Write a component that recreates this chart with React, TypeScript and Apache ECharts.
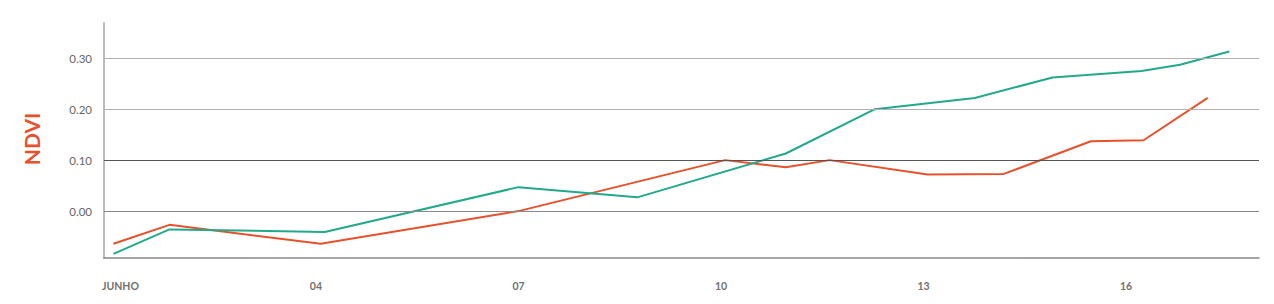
import React, { useEffect, useRef } from 'react';
import * as echarts from 'echarts';

const tickDays = [1, 4, 7, 10, 13, 16];
const tickLabels = ['JUNHO', '04', '07', '10', '13', '16'];
const yTicks = [0, 0.1, 0.2, 0.3];
const gridColors = ['#8a8a8a', '#555555', '#b0b0b0', '#b0b0b0'];

const redDays = [1, 1.83, 4.07, 7, 10.06, 10.96, 11.61, 13.06, 14.19, 15.48, 16.26, 17.21];
const redValues = [-0.064, -0.027, -0.064, 0, 0.1, 0.086, 0.1, 0.072, 0.073, 0.137, 0.139, 0.222];
const greenDays = [1, 1.83, 4.13, 7, 8.76, 10.96, 12.28, 13.76, 14.91, 16.23, 16.8, 17.53];
const greenValues = [-0.084, -0.036, -0.041, 0.047, 0.027, 0.113, 0.2, 0.222, 0.262, 0.275, 0.287, 0.313];

const RED = '#e8502c';
const GREEN = '#22a98b';

export default function App() {
  const ref = useRef<HTMLDivElement>(null);
  useEffect(() => {
    document.body.style.margin = '0';
    const chart = echarts.init(ref.current!, null, { renderer: 'svg' });
    chart.setOption({
      animation: false,
      textStyle: { fontFamily: 'Lato, sans-serif' },
      grid: { left: 104, right: 15, top: 23, bottom: 46, containLabel: false },
      graphic: [
        {
          type: 'text',
          x: 31,
          y: 139,
          rotation: Math.PI / 2,
          style: {
            text: 'NDVI',
            fill: RED,
            font: 'bold 21px Lato, sans-serif',
            align: 'center',
            verticalAlign: 'middle',
          },
        },
      ],
      xAxis: {
        type: 'value',
        min: 0.86,
        max: 17.97,
        axisLine: { show: true, onZero: false, lineStyle: { color: '#888', width: 1.5 } },
        axisTick: { show: false },
        splitLine: { show: false },
        axisLabel: {
          customValues: tickDays,
          color: '#707070',
          fontSize: 10.5,
          fontWeight: 'bold',
          margin: 22,
          formatter: (v: number) => {
            const i = tickDays.indexOf(Math.round(v));
            if (i === 0) return '{j|' + tickLabels[0] + '}';
            return i >= 0 ? tickLabels[i] : '';
          },
          rich: { j: { padding: [0, 0, 0, 14], color: '#707070', fontSize: 10.5, fontWeight: 'bold' } },
        },
      },
      yAxis: {
        type: 'value',
        min: -0.092,
        max: 0.369,
        axisLine: { show: true, onZero: false, lineStyle: { color: '#bbb', width: 2 } },
        axisTick: { show: false },
        splitLine: { show: false },
        axisLabel: {
          customValues: yTicks,
          color: '#666',
          fontSize: 11.5,
          margin: 12,
          formatter: (v: number) => v.toFixed(2),
        },
      },
      series: [
        {
          type: 'line',
          z: 1,
          data: [[1, 0]],
          showSymbol: false,
          lineStyle: { opacity: 0 },
          silent: true,
          markLine: {
            silent: true,
            symbol: 'none',
            label: { show: false },
            data: yTicks.map((v, i) => ({
              yAxis: v,
              lineStyle: { color: gridColors[i], width: 1.2, type: 'solid' },
            })),
          },
        },
        {
          type: 'line',
          z: 3,
          data: redDays.map((d, i) => [d, redValues[i]]),
          showSymbol: false,
          lineStyle: { color: RED, width: 2 },
        },
        {
          type: 'line',
          z: 3,
          data: greenDays.map((d, i) => [d, greenValues[i]]),
          showSymbol: false,
          lineStyle: { color: GREEN, width: 2 },
        },
      ],
    });
    return () => chart.dispose();
  }, []);
  return <div ref={ref} style={{ width: 1274, height: 304 }} />;
}
